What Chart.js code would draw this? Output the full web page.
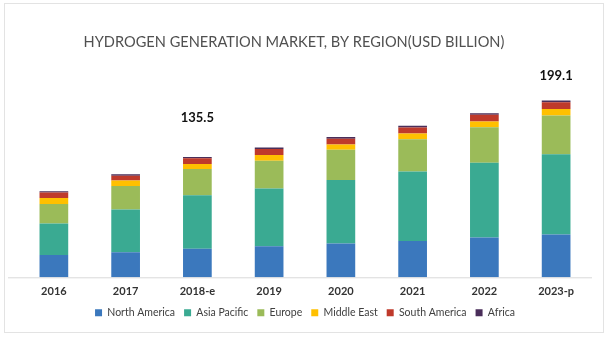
<!DOCTYPE html>
<html>
<head>
<meta charset="utf-8">
<script src="https://cdn.jsdelivr.net/npm/chart.js@4.4.0/dist/chart.umd.min.js"></script>
<style>
    html, body { margin: 0; padding: 0; background: #fff; }
    #wrap { position: relative; width: 609px; height: 343px; }
    #frame {
        position: absolute; left: 4px; top: 3px; width: 598px; height: 328px;
        border: 1px solid #e3e3e3; pointer-events: none;
    }
    canvas { position: absolute; left: 0; top: 0; }
</style>
</head>
<body>
<div id="wrap">
    <canvas id="regionChart" width="609" height="343"></canvas>
    <div id="frame"></div>
</div>
<script>
// Anos e valores por região (USD bilhões)
const years = ['2016', '2017', '2018-e', '2019', '2020', '2021', '2022', '2023-p'];
const northAmerica = [25.2, 28.2, 32.1, 35.1, 38.2, 40.8, 44.7, 48.2];
const asiaPacific  = [35.5, 48.2, 60.2, 65.0, 71.5, 78.4, 84.4, 90.5];
const europe       = [21.8, 26.4, 29.8, 31.3, 34.1, 36.2, 39.8, 43.6];
const middleEast   = [6.9, 6.1, 5.4, 6.5, 5.7, 6.5, 6.5, 7.3];
const southAmerica = [6.1, 5.4, 6.5, 6.5, 6.5, 6.9, 7.6, 7.6];
const africa       = [1.5, 1.9, 1.5, 1.9, 1.9, 1.9, 1.9, 1.9];

const chartTitle = 'HYDROGEN GENERATION MARKET, BY REGION(USD BILLION)';

// Anos que recebem o total em cima da barra
const labelledYears = ['2018-e', '2023-p'];
const labelGap = { '2018-e': 39, '2023-p': 25 };

const series = [
    { label: 'North America', data: northAmerica, color: '#3b78bd' },
    { label: 'Asia Pacific', data: asiaPacific, color: '#3aaa92' },
    { label: 'Europe', data: europe, color: '#9bbb59' },
    { label: 'Middle East', data: middleEast, color: '#ffc000' },
    { label: 'South America', data: southAmerica, color: '#bf3a2b' },
    { label: 'Africa', data: africa, color: '#4a2e5a' }
];

const totalsPlugin = {
    id: 'totals',
    afterDatasetsDraw(chart) {
        const { ctx } = chart;
        const topMeta = chart.getDatasetMeta(chart.data.datasets.length - 1);
        ctx.save();
        ctx.font = 'bold 13px Lato';
        ctx.fillStyle = '#111';
        ctx.textAlign = 'center';
        ctx.textBaseline = 'middle';
        years.forEach((y, i) => {
            if (!labelledYears.includes(y)) return;
            const total = series.reduce((s, d) => s + d.data[i], 0);
            const bar = topMeta.data[i];
            ctx.fillText(total.toFixed(1), bar.x, bar.y - labelGap[y]);
        });
        ctx.restore();
    }
};

// Título desenhado à mão e linha do eixo x um pouco mais longa à esquerda
const decorPlugin = {
    id: 'decor',
    beforeDatasetsDraw(chart) {
        const { ctx, chartArea } = chart;
        const y = chart.scales.y.getPixelForValue(0) + 0.5;
        ctx.save();
        ctx.strokeStyle = '#d9d9d9';
        ctx.lineWidth = 1;
        ctx.beginPath();
        ctx.moveTo(8, y);
        ctx.lineTo(chartArea.right, y);
        ctx.stroke();

        ctx.font = '14.6px Lato';
        ctx.fillStyle = '#505050';
        ctx.textAlign = 'center';
        ctx.textBaseline = 'middle';
        ctx.fillText(chartTitle, 294, 42);
        ctx.restore();
    }
};

const ctx = document.getElementById('regionChart').getContext('2d');
new Chart(ctx, {
    type: 'bar',
    data: {
        labels: years,
        datasets: series.map(s => ({
            label: s.label,
            data: s.data,
            backgroundColor: s.color,
            borderWidth: 0,
            categoryPercentage: 1,
            barPercentage: 0.4
        }))
    },
    options: {
        responsive: false,
        animation: false,
        layout: { padding: { left: 18, right: 17, top: 74, bottom: 15 } },
        plugins: {
            legend: {
                position: 'bottom',
                labels: {
                    boxWidth: 7,
                    boxHeight: 7,
                    padding: 9,
                    color: '#404040',
                    font: { family: 'Lato', size: 10.5 }
                }
            },
            tooltip: { enabled: false }
        },
        scales: {
            x: {
                stacked: true,
                grid: { display: false },
                border: { display: false },
                ticks: {
                    color: '#333',
                    padding: 0,
                    font: { family: 'Lato', size: 11, weight: 'bold' }
                }
            },
            y: {
                stacked: true,
                display: false,
                min: 0,
                max: 229
            }
        }
    },
    plugins: [totalsPlugin, decorPlugin]
});
</script>
</body>
</html>
